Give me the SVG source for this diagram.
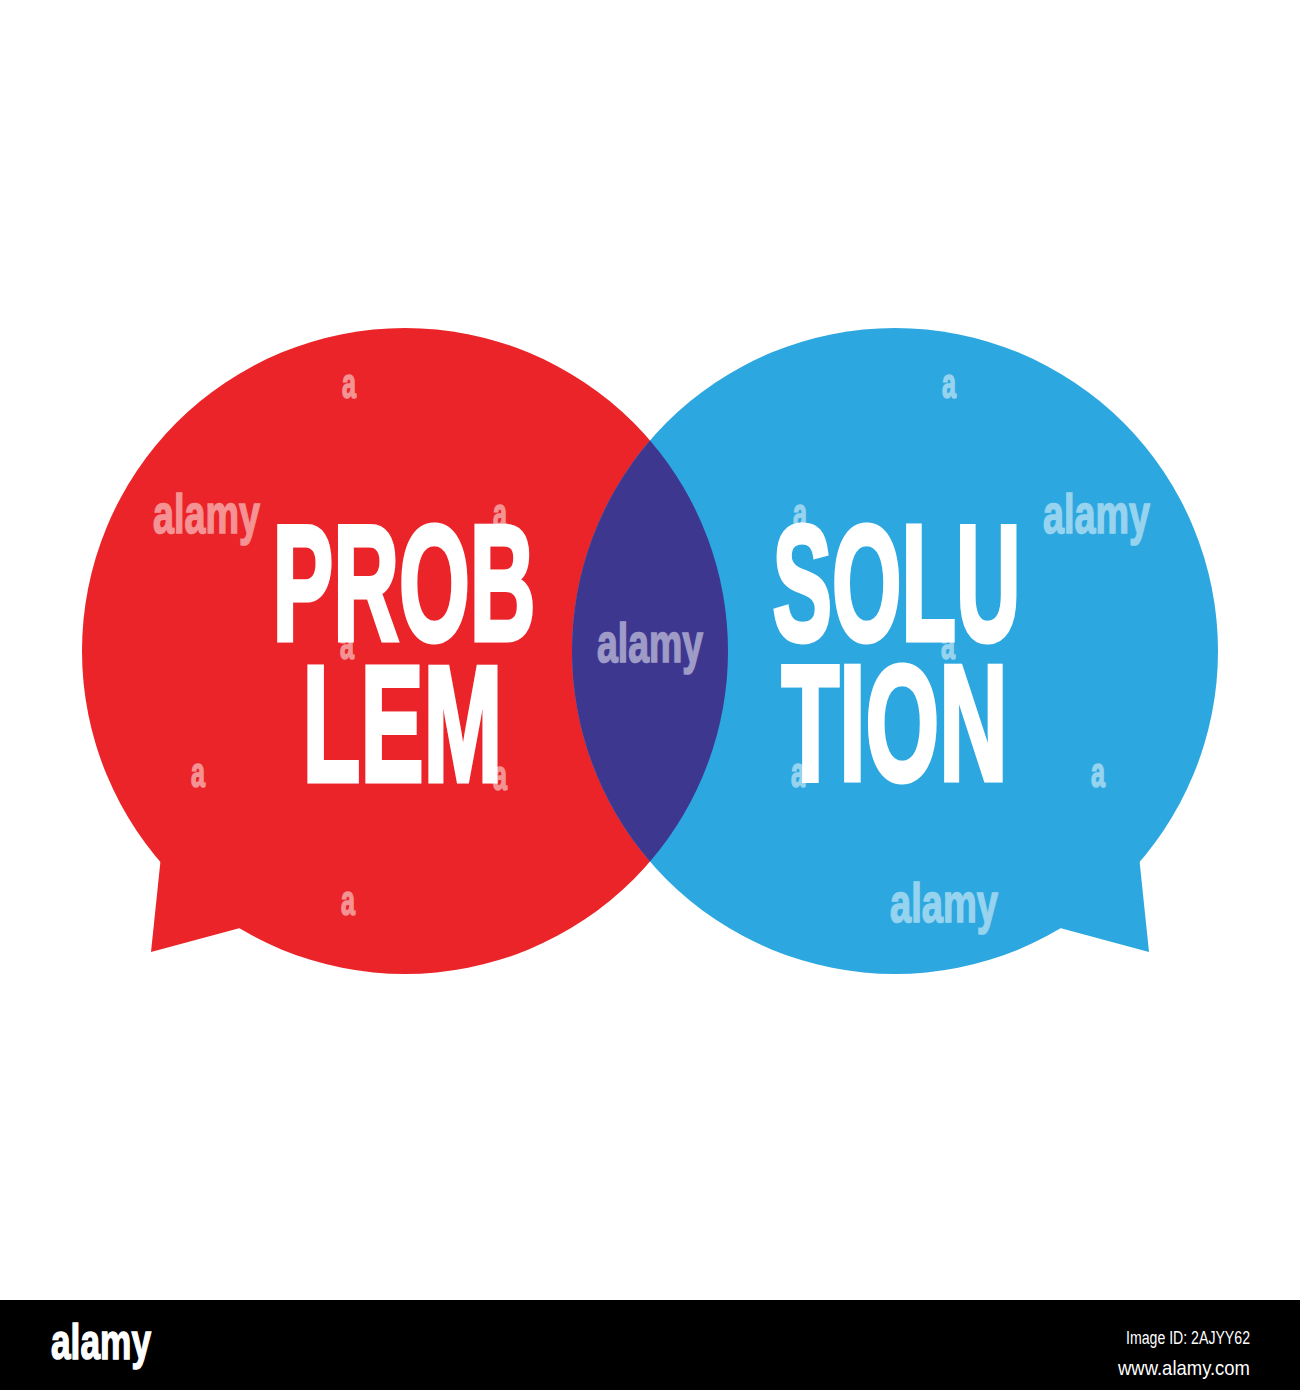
<svg xmlns="http://www.w3.org/2000/svg" width="1300" height="1390" viewBox="0 0 1300 1390">
  <style>
    .big { font-family: "Liberation Sans", Arial, sans-serif; font-weight: bold; font-size: 166px; fill: #ffffff; stroke: #ffffff; stroke-width: 5; stroke-linejoin: miter; }
    .wm { font-family: "Liberation Sans", Arial, sans-serif; font-weight: bold; fill: #ffffff; stroke: #ffffff; stroke-width: 1.5; opacity: 0.5; }
    .wmw { font-size: 56px; }
    .wma { font-size: 43px; }
    .foot { font-family: "Liberation Sans", Arial, sans-serif; fill: #ffffff; }
  </style>
  <rect x="0" y="0" width="1300" height="1390" fill="#ffffff"/>

  <g id="problem-bubble">
    <circle cx="405" cy="651" r="323" fill="#EA2428"/>
    <polygon points="161,856 151,952 240,928 260,900" fill="#EA2428"/>
  </g>

  <g id="solution-bubble">
    <circle cx="895" cy="651" r="323" fill="#2DA7E0"/>
    <polygon points="1139,856 1149,952 1060,928 1040,900" fill="#2DA7E0"/>
  </g>

  <g id="overlap">
    <path d="M650,440.5 A323,323 0 0 1 650,861.5 A323,323 0 0 1 650,440.5 Z" fill="#3E3790"/>
  </g>

  <g id="watermarks">
    <text class="wm wma" x="342" y="398" textLength="14" lengthAdjust="spacingAndGlyphs">a</text>
    <text class="wm wma" x="942" y="398" textLength="14" lengthAdjust="spacingAndGlyphs">a</text>
    <text class="wm wmw" x="153" y="533" textLength="107" lengthAdjust="spacingAndGlyphs">alamy</text>
    <text class="wm wma" x="493" y="528" textLength="14" lengthAdjust="spacingAndGlyphs">a</text>
    <text class="wm wma" x="793" y="528" textLength="14" lengthAdjust="spacingAndGlyphs">a</text>
    <text class="wm wmw" x="1043" y="533" textLength="107" lengthAdjust="spacingAndGlyphs">alamy</text>
    <text class="wm wma" x="340" y="659" textLength="14" lengthAdjust="spacingAndGlyphs">a</text>
    <text class="wm wmw" x="597" y="662" textLength="106" lengthAdjust="spacingAndGlyphs">alamy</text>
    <text class="wm wma" x="941" y="659" textLength="14" lengthAdjust="spacingAndGlyphs">a</text>
    <text class="wm wma" x="191" y="787" textLength="14" lengthAdjust="spacingAndGlyphs">a</text>
    <text class="wm wma" x="493" y="790" textLength="14" lengthAdjust="spacingAndGlyphs">a</text>
    <text class="wm wma" x="791" y="787" textLength="14" lengthAdjust="spacingAndGlyphs">a</text>
    <text class="wm wma" x="1091" y="787" textLength="14" lengthAdjust="spacingAndGlyphs">a</text>
    <text class="wm wma" x="341" y="915" textLength="14" lengthAdjust="spacingAndGlyphs">a</text>
    <text class="wm wmw" x="890" y="922" textLength="108" lengthAdjust="spacingAndGlyphs">alamy</text>
  </g>

  <g id="problem-label">
    <text class="big" x="272.5" y="639.5" textLength="263" lengthAdjust="spacingAndGlyphs">PROB</text>
    <text class="big" x="302.5" y="780.5" textLength="200" lengthAdjust="spacingAndGlyphs">LEM</text>
  </g>

  <g id="solution-label">
    <text class="big" x="772.5" y="639.5" textLength="248" lengthAdjust="spacingAndGlyphs">SOLU</text>
    <text class="big" x="781.5" y="779.5" textLength="226" lengthAdjust="spacingAndGlyphs">TION</text>
  </g>

  <g id="footer">
    <rect x="0" y="1300" width="1300" height="90" fill="#000000"/>
    <text class="foot" x="51" y="1359" font-size="50" font-weight="bold" stroke="#ffffff" stroke-width="1.5" textLength="100" lengthAdjust="spacingAndGlyphs">alamy</text>
    <text class="foot" x="1250" y="1344" font-size="18" text-anchor="end" textLength="124" lengthAdjust="spacingAndGlyphs">Image ID: 2AJYY62</text>
    <text class="foot" x="1250" y="1375" font-size="21" text-anchor="end" textLength="132" lengthAdjust="spacingAndGlyphs">www.alamy.com</text>
  </g>
</svg>
